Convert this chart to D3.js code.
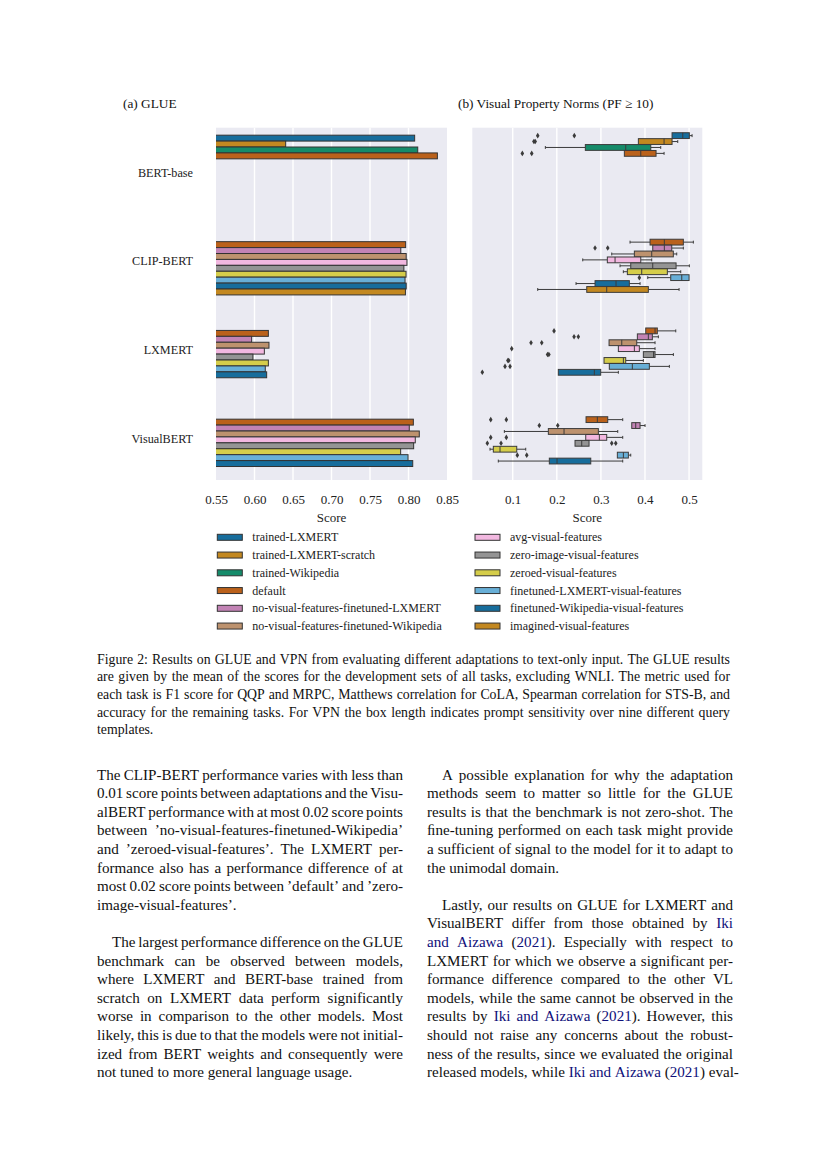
<!DOCTYPE html>
<html><head><meta charset="utf-8">
<script src="https://cdn.jsdelivr.net/npm/d3@7"></script>
<style>body{margin:0;background:#fff} svg{display:block}</style>
</head><body>
<svg id="c" width="827" height="1169"></svg>
<script>
// ---------------- DATA ----------------
const models = ["BERT-base", "CLIP-BERT", "LXMERT", "VisualBERT"];
const hues = ["trained-LXMERT", "trained-LXMERT-scratch", "trained-Wikipedia", "default",
  "no-visual-features-finetuned-LXMERT", "no-visual-features-finetuned-Wikipedia",
  "avg-visual-features", "zero-image-visual-features", "zeroed-visual-features",
  "finetuned-LXMERT-visual-features", "finetuned-Wikipedia-visual-features", "imagined-visual-features"];
const palette = ["#0173b2", "#de8f05", "#029e73", "#d55e00", "#cc78bc", "#ca9161",
  "#fbafe4", "#949494", "#ece133", "#56b4e9", "#0173b2", "#de8f05"];
const glueTicks = [0.55, 0.60, 0.65, 0.70, 0.75, 0.80, 0.85];
const vpnTicks = [0.1, 0.2, 0.3, 0.4, 0.5];

// (a) GLUE mean score, one entry per hue (null = not evaluated)
const glueBERTbase   = [0.808, 0.6405, 0.812, 0.8375, null, null, null, null, null, null, null, null];
const glueCLIPBERT   = [null, null, null, 0.7963, 0.790, 0.797, 0.798, 0.794, 0.7968, 0.7955, 0.797, 0.796];
const glueLXMERT     = [null, null, null, 0.618, 0.5963, 0.6188, 0.6128, 0.598, 0.618, 0.614, 0.6158, null];
const glueVisualBERT = [null, null, null, 0.8063, 0.801, 0.814, 0.8088, 0.8067, 0.7898, 0.7994, 0.8055, null];

// (b) VPN box stats [whiskerLow, q1, median, q3, whiskerHigh] per hue
const vpnBERTbase = [
  [0.4614, 0.4614, 0.4857, 0.5006, 0.5068],
  [0.385, 0.385, 0.4433, 0.4614, 0.4743],
  [0.174, 0.2647, 0.3563, 0.4131, 0.4357],
  [0.3532, 0.3532, 0.3904, 0.4251, 0.4433],
  null, null, null, null, null, null, null, null];
const vpnBERTbaseFliers = [[0.1567, 0.2397], [0.148, 0.151], [], [0.1218, 0.1431], [], [], [], [], [], [], [], []];

const vpnCLIPBERT = [null, null, null,
  [0.3661, 0.4115, 0.4439, 0.487, 0.5097],
  [0.4176, 0.4176, 0.4439, 0.4607, 0.487],
  [0.3246, 0.3759, 0.4153, 0.4643, 0.472],
  [0.2588, 0.3146, 0.3321, 0.3904, 0.4153],
  [0.3434, 0.3677, 0.4176, 0.4705, 0.5006],
  [0.3509, 0.36, 0.3926, 0.4507, 0.4811],
  [0.4063, 0.4584, 0.4834, 0.5, 0.5],
  [0.2436, 0.2867, 0.3343, 0.3645, 0.3888],
  [0.1567, 0.2679, 0.3132, 0.4076, 0.4773]];
const vpnCLIPBERTFliers = [[], [], [], [], [0.2867, 0.3155], [], [], [], [], [0.3872], [], []];

const vpnLXMERT = [null, null, null,
  [0.4017, 0.4017, 0.4228, 0.428, 0.4698],
  [0.3827, 0.3827, 0.4076, 0.4167, 0.4303],
  [0.3185, 0.3185, 0.3473, 0.3813, 0.4228],
  [0.3396, 0.3396, 0.3759, 0.3872, 0.4228],
  [0.3963, 0.3963, 0.4195, 0.4228, 0.4644],
  [0.3071, 0.3071, 0.351, 0.3563, 0.3963],
  [0.3191, 0.3191, 0.3713, 0.4099, 0.4553],
  [0.2034, 0.2034, 0.2851, 0.2996, 0.3396],
  null];
const vpnLXMERTFliers = [[], [], [], [0.1937], [0.2391, 0.2488], [0.1415, 0.1658], [0.0977],
  [0.179, 0.182], [0.089, 0.091], [0.0825, 0.0939], [0.031], []];

const vpnVisualBERT = [null, null, null,
  [0.2663, 0.2663, 0.2919, 0.3155, 0.3495],
  [0.37, 0.37, 0.379, 0.3888, 0.4001],
  [0.081, 0.1808, 0.2164, 0.2942, 0.3382],
  [0.2656, 0.2656, 0.2965, 0.3132, 0.3495],
  [0.2413, 0.2413, 0.2565, 0.2731, 0.2731],
  [0.0485, 0.056, 0.0712, 0.1091, 0.1295],
  [0.3373, 0.3373, 0.351, 0.3623, 0.3677],
  [0.0673, 0.183, 0.2005, 0.277, 0.3495],
  null];
const vpnVisualBERTFliers = [[], [], [], [0.0501, 0.0855], [0.1603, 0.2021], [], [0.0501, 0.0855],
  [0.0424, 0.0735, 0.3246, 0.3337], [], [0.1104, 0.1318], [], []];

// ---------------- TEXT ----------------
const captionLines = [
  "Figure 2: Results on GLUE and VPN from evaluating different adaptations to text-only input. The GLUE results",
  "are given by the mean of the scores for the development sets of all tasks, excluding WNLI. The metric used for",
  "each task is F1 score for QQP and MRPC, Matthews correlation for CoLA, Spearman correlation for STS-B, and",
  "accuracy for the remaining tasks. For VPN the box length indicates prompt sensitivity over nine different query",
  "templates."];
const leftPara1 = [
  "The CLIP-BERT performance varies with less than",
  "0.01 score points between adaptations and the Visu-",
  "alBERT performance with at most 0.02 score points",
  "between ’no-visual-features-finetuned-Wikipedia’",
  "and ’zeroed-visual-features’. The LXMERT per-",
  "formance also has a performance difference of at",
  "most 0.02 score points between ’default’ and ’zero-",
  "image-visual-features’."];
const leftPara2 = [
  "The largest performance difference on the GLUE",
  "benchmark can be observed between models,",
  "where LXMERT and BERT-base trained from",
  "scratch on LXMERT data perform significantly",
  "worse in comparison to the other models. Most",
  "likely, this is due to that the models were not initial-",
  "ized from BERT weights and consequently were",
  "not tuned to more general language usage."];
const rightPara1 = [
  "A possible explanation for why the adaptation",
  "methods seem to matter so little for the GLUE",
  "results is that the benchmark is not zero-shot. The",
  "ﬁne-tuning performed on each task might provide",
  "a sufficient of signal to the model for it to adapt to",
  "the unimodal domain."];
const rightPara2 = [
  "Lastly, our results on GLUE for LXMERT and",
  "VisualBERT differ from those obtained by {Iki}",
  "{and} {Aizawa} ({2021}). Especially with respect to",
  "LXMERT for which we observe a significant per-",
  "formance difference compared to the other VL",
  "models, while the same cannot be observed in the",
  "results by {Iki} {and} {Aizawa} ({2021}). However, this",
  "should not raise any concerns about the robust-",
  "ness of the results, since we evaluated the original",
  "released models, while {Iki} {and} {Aizawa} ({2021}) eval-"];

// ---------------- DRAWING ----------------
const FONT = "'Liberation Serif', 'Times New Roman', serif";
const CITE = "#10107a";
const svg = d3.select("#c");
const desat = c => { const h = d3.hsl(c); h.s *= 0.75; return h.formatHex(); };
const colors = palette.map(desat);
const EDGE = "#3b3b3b";

const glueByModel = [glueBERTbase, glueCLIPBERT, glueLXMERT, glueVisualBERT];
const vpnByModel = [vpnBERTbase, vpnCLIPBERT, vpnLXMERT, vpnVisualBERT];
const vpnFliersByModel = [vpnBERTbaseFliers, vpnCLIPBERTFliers, vpnLXMERTFliers, vpnVisualBERTFliers];

const PY0 = 127.7, PY1 = 480;
const A = {x0: 216, x1: 447};
const B = {x0: 472.3, x1: 702.3};

const xA = d3.scaleLinear().domain([0.55, 0.85]).range([A.x0, A.x1]);
const xB = d3.scaleLinear().domain([0.0083, 0.530]).range([B.x0, B.x1]);
const yA = d3.scaleBand().domain(models).range([126.3, 481.3]);
const yB = d3.scaleBand().domain(models).range([123.8, 478.8]);
const bw = yA.bandwidth();
const hueScale = d3.scaleBand().domain(hues).range([0.1 * bw, 0.9 * bw]);
const hw = hueScale.bandwidth();

const defs = svg.append("defs");
defs.append("clipPath").attr("id", "clipA").append("rect")
  .attr("x", A.x0).attr("y", PY0).attr("width", A.x1 - A.x0).attr("height", PY1 - PY0);
defs.append("clipPath").attr("id", "clipB").append("rect")
  .attr("x", B.x0).attr("y", PY0).attr("width", B.x1 - B.x0).attr("height", PY1 - PY0);

function panelFrame(P, x, ticks, fmt) {
  svg.append("rect").attr("x", P.x0).attr("y", PY0).attr("width", P.x1 - P.x0)
    .attr("height", PY1 - PY0).attr("fill", "#eaeaf2");
  const ax = svg.append("g").attr("transform", `translate(0,${PY1})`)
    .call(d3.axisBottom(x).tickValues(ticks).tickFormat(fmt).tickSize(0).tickPadding(0));
  ax.select(".domain").remove();
  ax.selectAll("text").attr("font-family", FONT).attr("font-size", 13).attr("fill", "#222")
    .attr("dy", null).attr("y", 23.6);
  svg.append("g").selectAll("line").data(ticks.filter(t => x(t) > P.x0 + 1 && x(t) < P.x1 - 1))
    .join("line").attr("x1", d => x(d)).attr("x2", d => x(d)).attr("y1", PY0).attr("y2", PY1)
    .attr("stroke", "#fff").attr("stroke-width", 1.4);
  svg.append("text").attr("x", (P.x0 + P.x1) / 2).attr("y", 521.5).attr("text-anchor", "middle")
    .attr("font-family", FONT).attr("font-size", 13).attr("fill", "#222").text("Score");
}
panelFrame(A, xA, glueTicks, d3.format(".2f"));
panelFrame(B, xB, vpnTicks, d3.format(".1f"));

// titles
svg.append("text").attr("x", 123).attr("y", 107.5).attr("font-family", FONT).attr("font-size", 13.3)
  .attr("fill", "#111").text("(a) GLUE");
svg.append("text").attr("x", 458).attr("y", 107.5).attr("font-family", FONT).attr("font-size", 13.3)
  .attr("fill", "#111").text("(b) Visual Property Norms (PF ≥ 10)");

// category labels
svg.append("g").selectAll("text").data(models).join("text")
  .attr("x", 193).attr("y", d => yA(d) + bw / 2 + 1.8).attr("dy", "0.33em")
  .attr("text-anchor", "end").attr("font-family", FONT).attr("font-size", 12.2).attr("fill", "#222")
  .text(d => d);

// (a) bars
const barData = [];
models.forEach((m, mi) => glueByModel[mi].forEach((v, hi) => {
  if (v != null) barData.push({m, h: hues[hi], hi, v});
}));
svg.append("g").attr("clip-path", "url(#clipA)").selectAll("rect").data(barData).join("rect")
  .attr("x", xA(0.5)).attr("y", d => yA(d.m) + hueScale(d.h))
  .attr("width", d => xA(d.v) - xA(0.5)).attr("height", hw)
  .attr("fill", d => colors[d.hi]).attr("stroke", "#333").attr("stroke-width", 1);

// (b) boxes
const boxData = [], flierData = [];
models.forEach((m, mi) => vpnByModel[mi].forEach((s, hi) => {
  if (s) boxData.push({m, h: hues[hi], hi, s});
  vpnFliersByModel[mi][hi].forEach(v => flierData.push({m, h: hues[hi], v}));
}));
const gB = svg.append("g").attr("clip-path", "url(#clipB)");
const bh = hw * 0.98;
const cy = d => yB(d.m) + hueScale(d.h) + hw / 2;
boxData.forEach(d => {
  const [wl, q1, md, q3, wh] = d.s, y = cy(d);
  const g = gB.append("g").attr("stroke", EDGE).attr("stroke-width", 1);
  if (wl < q1) {
    g.append("line").attr("x1", xB(wl)).attr("x2", xB(q1)).attr("y1", y).attr("y2", y);
    g.append("line").attr("x1", xB(wl)).attr("x2", xB(wl)).attr("y1", y - bh / 4).attr("y2", y + bh / 4);
  }
  if (wh > q3) {
    g.append("line").attr("x1", xB(q3)).attr("x2", xB(wh)).attr("y1", y).attr("y2", y);
    g.append("line").attr("x1", xB(wh)).attr("x2", xB(wh)).attr("y1", y - bh / 4).attr("y2", y + bh / 4);
  }
  g.append("rect").attr("x", xB(q1)).attr("y", y - bh / 2).attr("width", xB(q3) - xB(q1))
    .attr("height", bh).attr("fill", colors[d.hi]);
  g.append("line").attr("x1", xB(md)).attr("x2", xB(md)).attr("y1", y - bh / 2).attr("y2", y + bh / 2);
});
gB.append("g").selectAll("path").data(flierData).join("path")
  .attr("d", d => { const x = xB(d.v), y = cy(d); return `M${x},${y - 2.8}L${x + 1.8},${y}L${x},${y + 2.8}L${x - 1.8},${y}Z`; })
  .attr("fill", EDGE);

// legends
function legend(x, items, offset) {
  items.forEach((name, i) => {
    const y = 537.3 + i * 17.75;
    svg.append("rect").attr("x", x).attr("y", y - 3).attr("width", 25).attr("height", 6)
      .attr("fill", colors[offset + i]).attr("stroke", "#333").attr("stroke-width", 1);
    svg.append("text").attr("x", x + 35).attr("y", y + 4).attr("font-family", FONT)
      .attr("font-size", 12).attr("fill", "#222").text(name);
  });
}
legend(217.3, hues.slice(0, 6), 0);
legend(475, hues.slice(6), 6);

// ---------------- TEXT BLOCKS ----------------
function drawLine(str, x0, x1, y, size, justify) {
  const words = str.split(" ");
  const nodes = words.map(w => {
    const t = svg.append("text").attr("y", y).attr("font-size", size)
      .attr("font-family", FONT).attr("fill", "#111");
    w.split(/(\{[^}]*\})/).filter(p => p.length).forEach(p => {
      if (p[0] === "{") t.append("tspan").attr("fill", CITE).text(p.slice(1, -1));
      else t.append("tspan").text(p);
    });
    return t;
  });
  const widths = nodes.map(n => n.node().getComputedTextLength());
  const total = d3.sum(widths);
  let gap = justify && words.length > 1 ? (x1 - x0 - total) / (words.length - 1) : size * 0.25;
  let sx = 1;
  if (gap < size * 0.15) {
    // squeeze slightly to keep the justified measure
    gap = size * 0.15;
    sx = (x1 - x0 - gap * (words.length - 1)) / total;
  }
  let x = x0;
  nodes.forEach((n, i) => {
    n.attr("x", x);
    if (sx !== 1) n.attr("textLength", widths[i] * sx).attr("lengthAdjust", "spacingAndGlyphs");
    x += widths[i] * sx + gap;
  });
}
function drawPara(lines, x0, x1, y0, lh, size, indent) {
  lines.forEach((l, i) => drawLine(l, x0 + (i === 0 ? indent : 0), x1, y0 + i * lh, size, i < lines.length - 1));
}
drawPara(captionLines, 97, 730, 663.8, 17.6, 13.8, 0);
const LH = 18.6, BS = 15.1;
drawPara(leftPara1, 97, 403, 779.6, LH, BS, 0);
drawPara(leftPara2, 97, 403, 779.6 + 9 * LH, LH, BS, 15);
drawPara(rightPara1, 427, 733, 779.6, LH, BS, 15);
drawPara(rightPara2, 427, 733, 779.6 + 7 * LH, LH, BS, 15);
</script>
</body></html>
